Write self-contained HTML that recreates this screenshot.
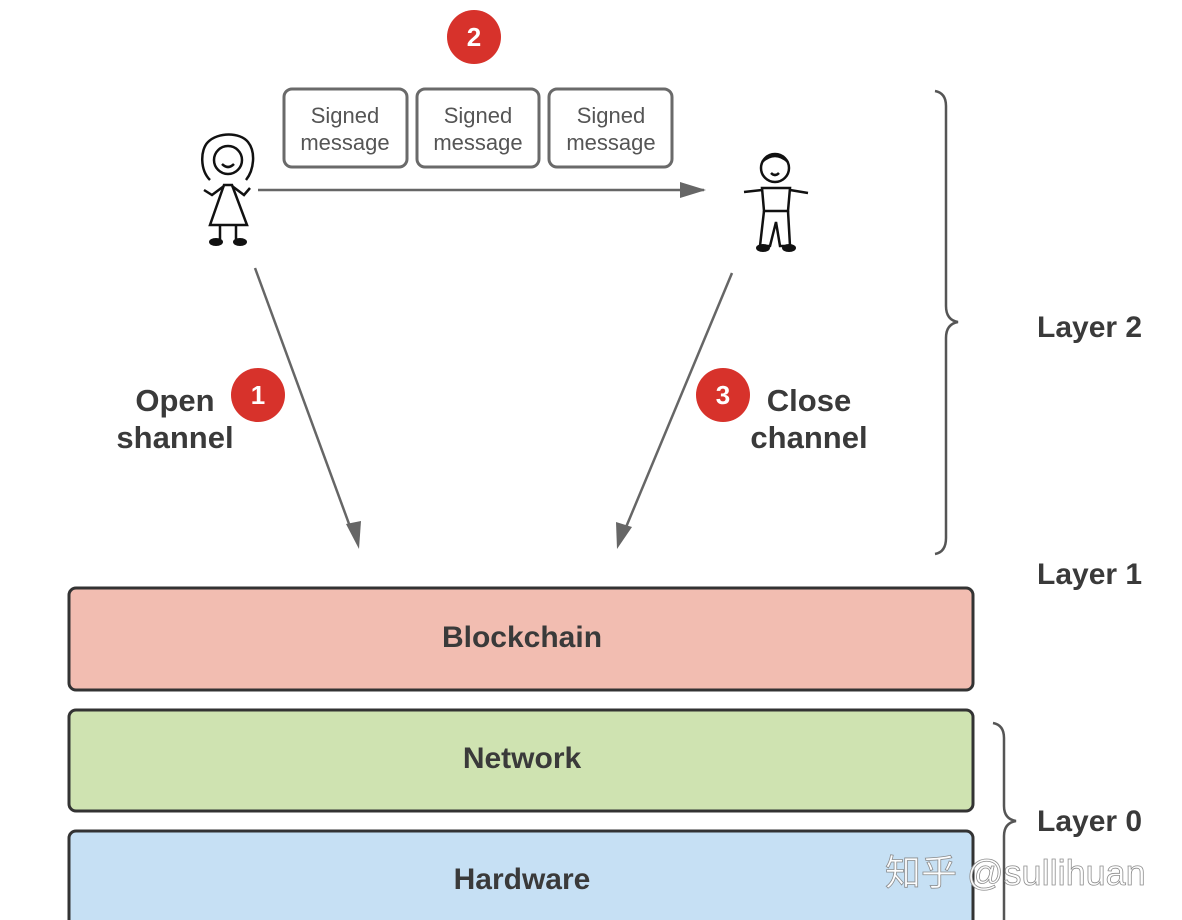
<!DOCTYPE html>
<html><head><meta charset="utf-8"><style>
html,body{margin:0;padding:0;background:#fff;width:1182px;height:920px;overflow:hidden}
svg{display:block}
text{font-family:"Liberation Sans","Noto Sans CJK SC",sans-serif}
</style></head><body>
<svg width="1182" height="920" viewBox="0 0 1182 920" xmlns="http://www.w3.org/2000/svg">
<!-- badge 2 -->
<circle cx="474" cy="37" r="27" fill="#d7322b"/>
<text x="474" y="46" font-size="26" font-weight="bold" fill="#fff" text-anchor="middle">2</text>
<!-- signed messages -->
<g fill="#fff" stroke="#6a6a6a" stroke-width="3">
<rect x="284" y="89" width="123" height="78" rx="8"/>
<rect x="417" y="89" width="122" height="78" rx="8"/>
<rect x="549" y="89" width="123" height="78" rx="8"/>
</g>
<g font-size="22" fill="#555" text-anchor="middle">
<text x="345" y="123">Signed</text><text x="345" y="150">message</text>
<text x="478" y="123">Signed</text><text x="478" y="150">message</text>
<text x="611" y="123">Signed</text><text x="611" y="150">message</text>
</g>
<!-- horizontal arrow -->
<line x1="258" y1="190" x2="704" y2="190" stroke="#666" stroke-width="2.5"/>
<path d="M680,182 L706,190 L680,198 z" fill="#666"/>
<!-- girl -->
<g stroke="#111" stroke-width="2.5" fill="none">
<path d="M210,180 C200,170 200,150 208,142 C218,132 240,132 248,142 C256,152 254,170 246,180"/>
<circle cx="228" cy="160" r="14" fill="#fff"/>
<path d="M222,164 Q228,170 234,164"/>
<path d="M224,185 L210,225 L247,225 L232,185 z" fill="#fff"/>
<path d="M224,186 L212,195 L204,190 M232,186 L244,195 L250,188"/>
<path d="M220,225 L220,240 M236,225 L236,240"/>
</g>
<ellipse cx="216" cy="242" rx="7" ry="4" fill="#111"/>
<ellipse cx="240" cy="242" rx="7" ry="4" fill="#111"/>
<!-- boy -->
<g stroke="#111" stroke-width="2.5" fill="none">
<circle cx="775" cy="168" r="14" fill="#fff"/>
<path d="M762,162 Q775,150 788,162"/>
<path d="M771,173 Q775,177 779,173"/>
<path d="M762,188 L790,188 L788,211 L764,211 z" fill="#fff"/>
<path d="M762,190 L744,192 M790,190 L808,193"/>
<path d="M764,211 L760,246 L770,246 L776,222 L780,246 L790,246 L788,211"/>
</g>
<ellipse cx="763" cy="248" rx="7" ry="4" fill="#111"/>
<ellipse cx="789" cy="248" rx="7" ry="4" fill="#111"/>
<!-- diagonal arrows -->
<line x1="255" y1="268" x2="352" y2="532" stroke="#666" stroke-width="2.5"/>
<path d="M346,524 L359,549 L361,521 z" fill="#666"/>
<line x1="732" y1="273" x2="624" y2="532" stroke="#666" stroke-width="2.5"/>
<path d="M616,522 L617,549 L632,527 z" fill="#666"/>
<!-- badges 1 and 3 -->
<circle cx="258" cy="395" r="27" fill="#d7322b"/>
<text x="258" y="404" font-size="26" font-weight="bold" fill="#fff" text-anchor="middle">1</text>
<circle cx="723" cy="395" r="27" fill="#d7322b"/>
<text x="723" y="404" font-size="26" font-weight="bold" fill="#fff" text-anchor="middle">3</text>
<g font-size="31" font-weight="bold" fill="#3a3a3a" text-anchor="middle">
<text x="175" y="411">Open</text><text x="175" y="448">shannel</text>
<text x="809" y="411">Close</text><text x="809" y="448">channel</text>
</g>
<!-- brace layer 2 -->
<path d="M935,91 Q946,93 946,106 L946,306 Q946,320 958,322 Q946,324 946,338 L946,538 Q946,552 935,554" fill="none" stroke="#555" stroke-width="2.5"/>
<g font-size="30" font-weight="bold" fill="#3a3a3a">
<text x="1037" y="337">Layer 2</text>
<text x="1037" y="584">Layer 1</text>
<text x="1037" y="831">Layer 0</text>
</g>
<!-- layers -->
<rect x="69" y="588" width="904" height="102" rx="7" fill="#f2bdb1" stroke="#333" stroke-width="3"/>
<rect x="69" y="710" width="904" height="101" rx="7" fill="#cfe3b1" stroke="#333" stroke-width="3"/>
<rect x="69" y="831" width="904" height="100" rx="7" fill="#c6e0f4" stroke="#333" stroke-width="3"/>
<g font-size="30" font-weight="bold" fill="#3a3a3a" text-anchor="middle">
<text x="522" y="647">Blockchain</text>
<text x="522" y="768">Network</text>
<text x="522" y="889">Hardware</text>
</g>
<!-- brace layer 0 -->
<path d="M993,723 Q1004,725 1004,738 L1004,806 Q1004,819 1016,821 Q1004,823 1004,836 L1004,920" fill="none" stroke="#555" stroke-width="2.5"/>
<!-- watermark -->
<text x="885" y="885" font-size="36" fill="#fff" stroke="#888" stroke-width="0.8" opacity="0.95">知乎 @sullihuan</text>
</svg>
</body></html>
